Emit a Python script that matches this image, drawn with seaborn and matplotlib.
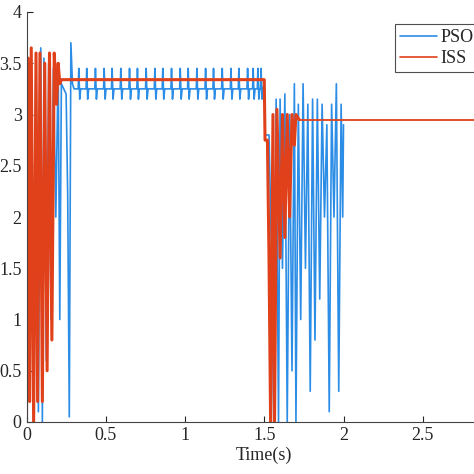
import numpy as np
import pandas as pd
import matplotlib
matplotlib.use("Agg")
import matplotlib.pyplot as plt
import seaborn as sns

# PSO curve: start-up transient, steady ripple, second transient
pso_t_start = [0, 0.01, 0.02, 0.03, 0.045, 0.06, 0.075, 0.09, 0.1, 0.11, 0.125, 0.14, 0.155,
               0.17, 0.185, 0.2, 0.21, 0.22, 0.235, 0.25, 0.26, 0.27, 0.28, 0.29, 0.3]
pso_v_start = [0, 3.3, 0.2, 3.5, 0, 3.6, 0.1, 3.65, 0, 3.55, 0.6, 3.5, 1.0,
               3.45, 2.0, 3.5, 1.0, 3.3, 3.25, 3.2, 2.2, 0.05, 3.7, 3.3, 3.25]
spike_times = [0.33, 0.38, 0.435, 0.49, 0.54, 0.595, 0.65, 0.7, 0.755, 0.81, 0.86, 0.915,
               0.97, 1.02, 1.075, 1.13, 1.18, 1.235, 1.29, 1.34, 1.395, 1.43, 1.46, 1.48]
spike_shape = [3.25, 3.45, 3.15, 3.25]
pso_t_end = [1.5, 1.505, 1.52, 1.53, 1.545, 1.56, 1.575, 1.59, 1.6, 1.615, 1.63, 1.645, 1.66,
             1.675, 1.69, 1.7, 1.715, 1.73, 1.745, 1.76, 1.775, 1.79, 1.805, 1.82, 1.835, 1.85,
             1.865, 1.88, 1.895, 1.91, 1.925, 1.94, 1.955, 1.97, 1.985, 1.995, 2.0]
pso_v_end = [3.3, 2.8, 2.8, 2.8, 1.7, 0, 3.15, 0, 3.15, 1.5, 3.2, 0, 3.0,
             0.5, 3.3, 0, 3.1, 1.0, 3.3, 1.5, 3.1, 0.3, 3.15, 0.8, 3.15, 1.2,
             3.1, 2.0, 2.9, 0.1, 3.1, 2.0, 3.3, 0.3, 3.1, 2.0, 2.9]

# ISS curve
iss_t = [0, 0.01, 0.02, 0.03, 0.045, 0.06, 0.07, 0.085, 0.1, 0.115, 0.13, 0.145, 0.16, 0.175,
         0.19, 0.2, 0.21, 0.22, 1.5, 1.505, 1.52, 1.53, 1.54, 1.555, 1.565, 1.58, 1.6, 1.615,
         1.63, 1.645, 1.66, 1.675, 1.69, 1.7, 1.72]
iss_v = [0, 3.55, 0.2, 3.65, 0, 3.6, 0.2, 3.6, 0.2, 3.5, 0.5, 3.6, 0.8, 3.6,
         3.1, 3.5, 3.3, 3.34, 3.34, 2.75, 2.75, 1.6, 0, 3.0, 0, 3.05, 1.6, 3.0,
         1.8, 3.0, 2.0, 3.0, 2.7, 3.0, 2.95]
iss_t_tail = [1.72, 3.0]
iss_v_tail = [2.95, 2.95]

# assemble PSO ripple from the listed spike times
rip_t, rip_v = [], []
for st in spike_times:
    rip_t += [st - 0.004, st, st + 0.006, st + 0.012]
    rip_v += spike_shape
pso = pd.DataFrame({"t": pso_t_start + rip_t + pso_t_end,
                    "v": pso_v_start + rip_v + pso_v_end})

sns.set_style("ticks")
plt.rcParams["font.family"] = ["Liberation Serif", "DejaVu Serif"]

fig = plt.figure(figsize=(4.74, 4.74), dpi=100)
ax = fig.add_axes([26.5 / 474, 52 / 474, 475.5 / 474, 410 / 474])

blue = "#2b8de6"
red = "#e0411b"
sns.lineplot(data=pso, x="t", y="v", ax=ax, color=blue, lw=1.2, sort=False,
             estimator=None, label="PSO")
sns.lineplot(x=iss_t, y=iss_v, ax=ax, color=red, lw=2.2, sort=False, estimator=None,
             label="ISS")
sns.lineplot(x=iss_t_tail, y=iss_v_tail, ax=ax, color=red, lw=1.3, sort=False,
             estimator=None)

ax.set_xlim(0, 3)
ax.set_ylim(0, 4)
ax.set_xticks([0, 0.5, 1, 1.5, 2, 2.5, 3])
ax.set_xticklabels(["0", "0.5", "1", "1.5", "2", "2.5", "3"])
ax.set_yticks([0, 0.5, 1, 1.5, 2, 2.5, 3, 3.5, 4])
ax.set_yticklabels(["0", "0.5", "1", "1.5", "2", "2.5", "3", "3.5", "4"])
ax.tick_params(direction="in", labelsize=13, length=4, width=0.8)
ax.set_xlabel("Time(s)", fontsize=13, labelpad=2)
ax.set_ylabel("")
for s in ["top", "right"]:
    ax.spines[s].set_visible(False)
for s in ["left", "bottom"]:
    ax.spines[s].set_color("#444444")
    ax.spines[s].set_linewidth(0.8)

leg = ax.legend(loc="upper left", bbox_to_anchor=(368.5 / 475.5, 1 - 12 / 410),
                borderaxespad=0, fontsize=13, frameon=True, fancybox=False,
                handlelength=2.0, borderpad=0.3, labelspacing=0.2, handletextpad=0.2)
leg.get_frame().set_edgecolor("#222222")
leg.get_frame().set_linewidth(0.8)
for line in leg.get_lines():
    line.set_linewidth(1.2)

fig.savefig("out.png", dpi=100)
